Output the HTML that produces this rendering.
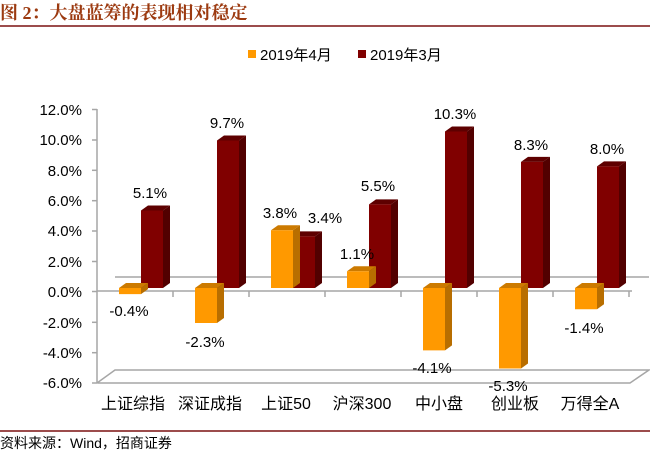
<!DOCTYPE html>
<html><head><meta charset="utf-8"><style>
html,body{margin:0;padding:0;background:#fff;width:650px;height:452px;overflow:hidden}
svg{display:block}
text{font-family:"Liberation Sans","Noto Sans CJK SC",sans-serif}
</style></head><body>
<svg width="650" height="452" viewBox="0 0 650 452">
<text x="0" y="19" font-size="18" font-weight="bold" fill="#9C3A10" style="font-family:'Liberation Serif','Noto Serif CJK SC',serif">图 2：大盘蓝筹的表现相对稳定</text>
<line x1="0" y1="26" x2="650" y2="26" stroke="#7B1010" stroke-width="1.5"/>
<rect x="248" y="50" width="8" height="8" fill="#FF9900"/>
<text x="260" y="60" font-size="15" fill="#000">2019年4月</text>
<rect x="358" y="50" width="8" height="8" fill="#800000"/>
<text x="370" y="60" font-size="15" fill="#000">2019年3月</text>
<g stroke="#A6A6A6" stroke-width="1.5" fill="none">
<line x1="97" y1="109" x2="97" y2="383"/>
<line x1="115" y1="277" x2="649" y2="277"/>
<line x1="97" y1="291" x2="632" y2="291"/>
<polyline points="97,383 630,383 649,370 115,370 97,383"/>
<line x1="92" y1="109.5" x2="97" y2="109.5"/><line x1="92" y1="140" x2="97" y2="140"/>
<line x1="92" y1="170.3" x2="97" y2="170.3"/><line x1="92" y1="200.7" x2="97" y2="200.7"/>
<line x1="92" y1="231" x2="97" y2="231"/><line x1="92" y1="261.5" x2="97" y2="261.5"/>
<line x1="92" y1="291.5" x2="97" y2="291.5"/><line x1="92" y1="322.3" x2="97" y2="322.3"/>
<line x1="92" y1="352.7" x2="97" y2="352.7"/><line x1="92" y1="383" x2="97" y2="383"/>
<line x1="173" y1="291" x2="173" y2="297"/><line x1="249" y1="291" x2="249" y2="297"/>
<line x1="325" y1="291" x2="325" y2="297"/><line x1="401" y1="291" x2="401" y2="297"/>
<line x1="477" y1="291" x2="477" y2="297"/><line x1="553" y1="291" x2="553" y2="297"/>
<line x1="629" y1="291" x2="629" y2="297"/>
</g>
<g font-size="15" fill="#000" text-anchor="end">
<text x="82" y="115">12.0%</text><text x="82" y="145">10.0%</text>
<text x="82" y="176">8.0%</text><text x="82" y="206">6.0%</text>
<text x="82" y="236">4.0%</text><text x="82" y="267">2.0%</text>
<text x="82" y="297">0.0%</text><text x="82" y="328">-2.0%</text>
<text x="82" y="358">-4.0%</text><text x="82" y="388">-6.0%</text>
</g>
<g id="bars"></g>
<g font-size="15" fill="#000" text-anchor="middle">
<text x="129" y="316">-0.4%</text><text x="150" y="198">5.1%</text>
<text x="205" y="347">-2.3%</text><text x="227" y="128">9.7%</text>
<text x="280" y="218">3.8%</text><text x="325" y="223">3.4%</text>
<text x="357" y="259">1.1%</text><text x="378" y="191">5.5%</text>
<text x="432" y="373">-4.1%</text><text x="455" y="119">10.3%</text>
<text x="508" y="391">-5.3%</text><text x="531" y="150">8.3%</text>
<text x="584" y="333">-1.4%</text><text x="607" y="154">8.0%</text>
</g>
<g font-size="16" fill="#000" text-anchor="middle">
<text x="133" y="409">上证综指</text><text x="210" y="409">深证成指</text>
<text x="286" y="409">上证50</text><text x="362" y="409">沪深300</text>
<text x="439" y="409">中小盘</text><text x="515" y="409">创业板</text>
<text x="590" y="409">万得全A</text>
</g>
<line x1="0" y1="431" x2="650" y2="431" stroke="#7B1010" stroke-width="1.5"/>
<text x="0" y="448" font-size="14" fill="#000">资料来源：Wind，招商证券</text>
<script>
(function(){
var o=[-0.4,-2.3,3.8,1.1,-4.1,-5.3,-1.4], r=[5.1,9.7,3.4,5.5,10.3,8.3,8.0];
var g=document.getElementById('bars'), ns='http://www.w3.org/2000/svg', s=15.2, b=288, dx=7, dy=-5;
function poly(p,f){var e=document.createElementNS(ns,'polygon');e.setAttribute('points',p);e.setAttribute('fill',f);g.appendChild(e);}
function bar(x,v,front,side,top){
 var w=22, y1=b, y2=b-v*s, t=Math.min(y1,y2), bt=Math.max(y1,y2);
 poly((x+w)+','+t+' '+(x+w+dx)+','+(t+dy)+' '+(x+w+dx)+','+(bt+dy)+' '+(x+w)+','+bt, side);
 poly(x+','+t+' '+(x+dx)+','+(t+dy)+' '+(x+w+dx)+','+(t+dy)+' '+(x+w)+','+t, top);
 poly(x+','+t+' '+(x+w)+','+t+' '+(x+w)+','+bt+' '+x+','+bt, front);
}
for(var i=0;i<7;i++){
 var c=135+76*i;
 bar(c+6,r[i],'#800000','#520000','#5E0000');
 bar(c-16,o[i],'#FF9900','#B86E00','#CC7A00');
}
})();
</script>
</svg>
</body></html>
